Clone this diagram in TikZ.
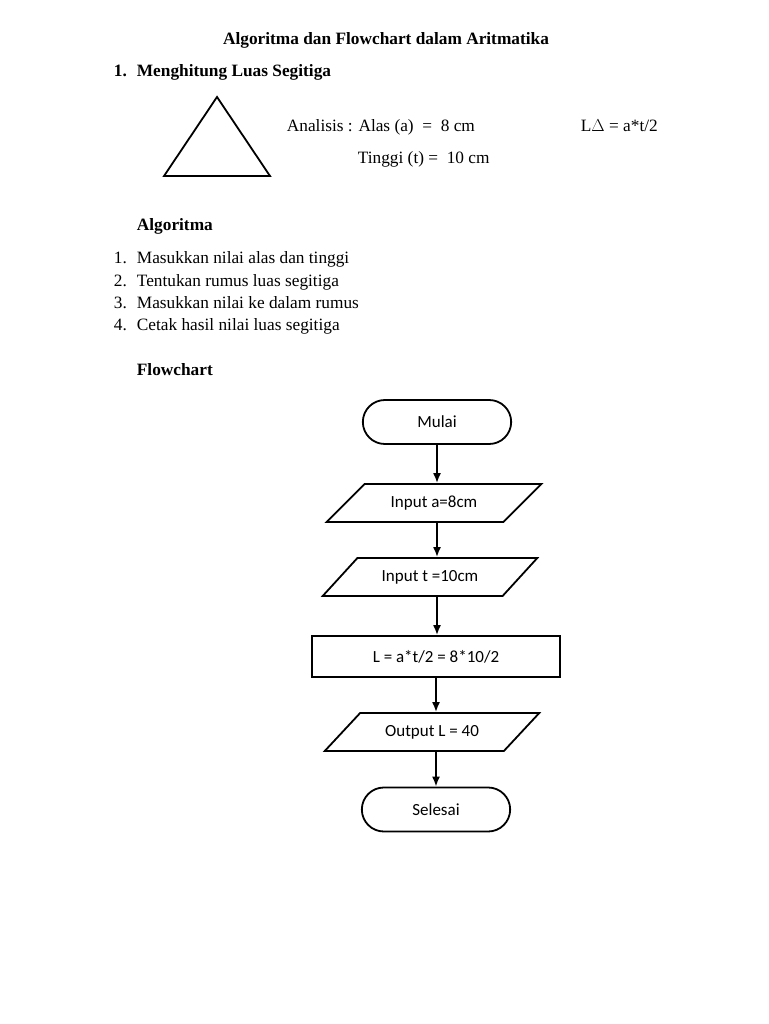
\documentclass[tikz,border=0pt]{standalone}
\usepackage{fontspec}
\setmainfont{Liberation Serif}
\newfontfamily\flowfont{Carlito}
\usetikzlibrary{shapes.geometric,shapes.misc,arrows.meta}
\begin{document}
\begin{tikzpicture}[x=1pt,y=-1pt,line width=1.8pt,>={Latex[length=10pt,width=8pt]},
font=\fontsize{17.3}{20}\selectfont,
txt/.style={anchor=base west,inner sep=0pt},
terminal/.style={rounded rectangle,draw,minimum width=155pt,minimum height=44pt,font=\flowfont\fontsize{17}{20}\selectfont},
io/.style={trapezium,trapezium left angle=41.5,trapezium right angle=138.5,trapezium stretches=true,draw,minimum width=215pt,minimum height=38pt,inner xsep=0pt,font=\flowfont\fontsize{17}{20}\selectfont},
process/.style={rectangle,draw,minimum width=248pt,minimum height=41pt,font=\flowfont\fontsize{17}{20}\selectfont}]
\useasboundingbox (0,0) rectangle (768,1024);
% judul
\node[anchor=base,inner sep=0pt] (judul) at (386,45) {\textbf{Algoritma dan Flowchart dalam Aritmatika}};
\node[txt] (no1) at (113,77) {\textbf{1.}};
\node[txt] (sub1) at (136,77) {\textbf{Menghitung Luas Segitiga}};
% segitiga
\draw[line width=1.8pt,line join=miter] (217,97)--(270,176)--(164,176)--cycle;
\node[txt] (alas) at (286,132) {Analisis : Alas (a) \ = \ 8 cm};
\node[txt] (rumus) at (580,132) {L$\Delta$ = a*t/2};
\node[txt] (tinggi) at (357,164) {Tinggi (t) = \ 10 cm};
% algoritma
\node[txt] (algo) at (136,231) {\textbf{Algoritma}};
\foreach \n/\t/\y in {1/Masukkan nilai alas dan tinggi/263,
  2/Tentukan rumus luas segitiga/286,
  3/Masukkan nilai ke dalam rumus/308,
  4/Cetak hasil nilai luas segitiga/330}{
  \node[txt] (no\n) at (113,\y) {\n.};
  \node[txt] (langkah\n) at (136,\y) {\t};
}
\node[txt] (flow) at (136,375) {\textbf{Flowchart}};
% flowchart
\node[terminal] (mulai) at (437,422) {Mulai};
\node[io] (ina) at (434,503) {Input a=8cm};
\node[io] (int) at (430,577) {Input t =10cm};
\node[process] (hitung) at (436,656.5) {L = a*t/2 = 8*10/2};
\node[io] (out) at (432,732) {Output L = 40};
\node[terminal] (selesai) at (436,809.5) {Selesai};
\draw[->] (mulai.south) -- (mulai.south |- ina.north);
\draw[->] (mulai.south |- ina.south) -- (mulai.south |- int.north);
\draw[->] (mulai.south |- int.south) -- (mulai.south |- hitung.north);
\draw[->] (hitung.south) -- (hitung.south |- out.north);
\draw[->] (out.south -| selesai.north) -- (selesai.north);
\end{tikzpicture}
\end{document}
